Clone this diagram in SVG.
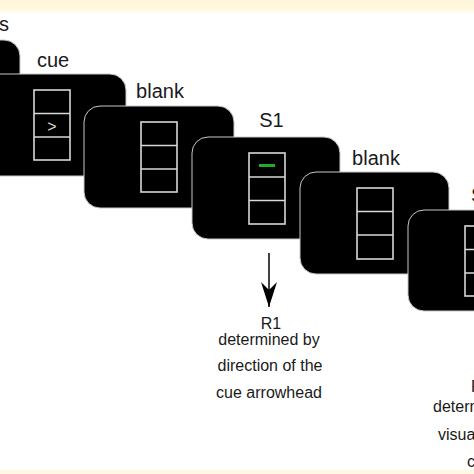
<svg xmlns="http://www.w3.org/2000/svg" width="474" height="474" viewBox="0 0 474 474">
<defs>
<style>
.panel{fill:#000;stroke:#c8c8c8;stroke-width:1}
.box{fill:none;stroke:#d8d8d8;stroke-width:1.6}
.lbl{font-family:"Liberation Sans",Arial,sans-serif;font-size:20px;fill:#1a1a1a}
.note{font-family:"Liberation Sans",Arial,sans-serif;font-size:16px;fill:#1a1a1a}
</style>
<linearGradient id="topband" x1="0" y1="0" x2="0" y2="1">
<stop offset="0" stop-color="#fff6d8"/>
<stop offset="0.75" stop-color="#fff8e2"/>
<stop offset="1" stop-color="#ffffff"/>
</linearGradient>
<marker id="arrow" viewBox="0 0 26 18" refX="25" refY="9" markerWidth="26" markerHeight="18" markerUnits="userSpaceOnUse" orient="auto">
<path d="M25,9 L0,1 L8,9 L0,17 Z" fill="#000"/>
</marker>
</defs>
<rect x="0" y="0" width="474" height="474" fill="#fff"/>
<rect x="0" y="0" width="474" height="14" fill="url(#topband)"/>
<rect x="0" y="470" width="474" height="4" fill="#fff8e2"/>

<g id="panel-1">
<rect class="panel" x="-132" y="40" width="152" height="102" rx="16"/>
<text class="lbl" x="-1" y="31">s</text>
</g>

<g id="panel-cue">
<rect class="panel" x="-24" y="74" width="150" height="102" rx="16"/>
<text class="lbl" x="53" y="67" text-anchor="middle">cue</text>
<rect class="box" x="34" y="90" width="36" height="70"/>
<line class="box" x1="34" y1="113.5" x2="70" y2="113.5"/>
<line class="box" x1="34" y1="137" x2="70" y2="137"/>
<text x="52" y="132" text-anchor="middle" font-family="Liberation Sans,Arial,sans-serif" font-size="16" fill="#dcdcdc">&gt;</text>
</g>

<g id="panel-blank-1">
<rect class="panel" x="84" y="106" width="150" height="102" rx="16"/>
<text class="lbl" x="160" y="98" text-anchor="middle">blank</text>
<rect class="box" x="141" y="122" width="36" height="70"/>
<line class="box" x1="141" y1="145.5" x2="177" y2="145.5"/>
<line class="box" x1="141" y1="169" x2="177" y2="169"/>
</g>

<g id="panel-S1">
<rect class="panel" x="192" y="137" width="148" height="102" rx="16"/>
<text class="lbl" x="271.5" y="127" text-anchor="middle" font-size="19">S1</text>
<rect class="box" x="249" y="153" width="36" height="71"/>
<line class="box" x1="249" y1="177" x2="285" y2="177"/>
<line class="box" x1="249" y1="200.5" x2="285" y2="200.5"/>
<line x1="259" y1="165.5" x2="275" y2="165.5" stroke="#1fae2a" stroke-width="3"/>
</g>

<g id="panel-blank-2">
<rect class="panel" x="300" y="172" width="149" height="102" rx="16"/>
<text class="lbl" x="376" y="165" text-anchor="middle">blank</text>
<rect class="box" x="357" y="188" width="36" height="71"/>
<line class="box" x1="357" y1="211.5" x2="393" y2="211.5"/>
<line class="box" x1="357" y1="235" x2="393" y2="235"/>
</g>

<g id="panel-S2">
<rect class="panel" x="408" y="210" width="150" height="101" rx="16"/>
<text class="lbl" x="471" y="202" font-size="19">S2</text>
<rect class="box" x="465" y="226" width="36" height="70"/>
<line class="box" x1="465" y1="249.5" x2="501" y2="249.5"/>
<line class="box" x1="465" y1="273" x2="501" y2="273"/>
</g>

<g id="connectors">
<line x1="269" y1="253" x2="269" y2="307" stroke="#000" stroke-width="1.5" marker-end="url(#arrow)"/>
</g>

<g id="R1">
<text class="note" x="271" y="329" text-anchor="middle" font-size="17">R1</text>
<text class="note" x="269" y="345" text-anchor="middle">determined by</text>
<text class="note" x="270" y="371" text-anchor="middle">direction of the</text>
<text class="note" x="269" y="398" text-anchor="middle">cue arrowhead</text>
</g>

<g id="R2">
<text class="note" x="471" y="392" font-size="17">R2</text>
<text class="note" x="433" y="412">determined by</text>
<text class="note" x="438" y="440">visual</text>
<text class="note" x="467" y="467">c</text>
</g>
</svg>
